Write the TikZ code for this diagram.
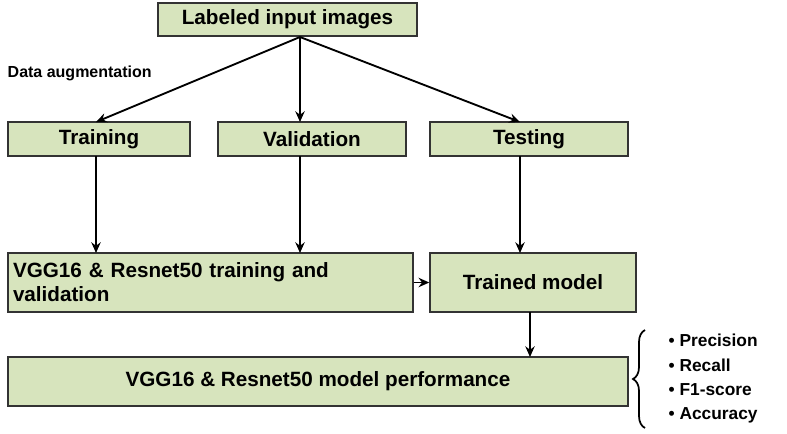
\documentclass[tikz,border=0pt]{standalone}
\usepackage{fontspec}
\setmainfont{Liberation Sans}
\usetikzlibrary{arrows.meta,decorations.pathreplacing}
\definecolor{boxg}{HTML}{D7E4BD}
\begin{document}
\begin{tikzpicture}[x=0.75pt,y=-0.75pt,
 box/.style={draw=black!80,line width=1.1pt,fill=boxg,font=\bfseries\fontsize{15.5}{18}\selectfont,inner sep=0pt},
 arr/.style={-{Stealth[length=8pt,width=7pt]},line width=1.4pt},
 bl/.style={font=\bfseries\fontsize{13}{15}\selectfont,anchor=west}]
\useasboundingbox (0,0) rectangle (787,433);
\node[box,minimum width=259*0.75pt,minimum height=33*0.75pt] (in) at (287.5,19.5) {Labeled input images};
\node[box,minimum width=182*0.75pt,minimum height=34*0.75pt] (tr) at (99,139) {Training};
\node[box,minimum width=188*0.75pt,minimum height=34*0.75pt] (va) at (312,139) {Validation};
\node[box,minimum width=198*0.75pt,minimum height=34*0.75pt] (te) at (529,139) {Testing};
\node[box,minimum width=405*0.75pt,minimum height=59*0.75pt,align=left,text width=395*0.75pt] (vgg) at (210.5,282.5) {VGG16 \& Resnet50 training and\\validation};
\node[box,minimum width=206*0.75pt,minimum height=59*0.75pt] (tm) at (533,282.5) {Trained model};
\node[box,minimum width=620*0.75pt,minimum height=49*0.75pt] (pf) at (318,381.5) {VGG16 \& Resnet50 model performance};
\coordinate (s) at (300,37);
\draw[arr] (s) -- (96,122);
\draw[arr] (s) -- (300,122);
\draw[arr] (s) -- (520,122);
\node[font=\bfseries\fontsize{12}{14}\selectfont,anchor=west] (da) at (3,73) {Data augmentation};
\draw[arr] (96,156) -- (96,253);
\draw[arr] (300,156) -- (300,253);
\draw[arr] (520,156) -- (520,253);
\draw[arr] (vgg.east|-tm.west) -- (tm.west);
\draw[arr] (530,312) -- (530,357);
\draw[line width=1.3pt,decorate,decoration={brace,amplitude=9pt}] (645,428) -- (645,330);
\node[bl] (p1) at (664,340) {• Precision};
\node[bl] (p2) at (664,365) {• Recall};
\node[bl] (p3) at (664,390) {• F1-score};
\node[bl] (p4) at (664,415) {• Accuracy};
\end{tikzpicture}
\end{document}
